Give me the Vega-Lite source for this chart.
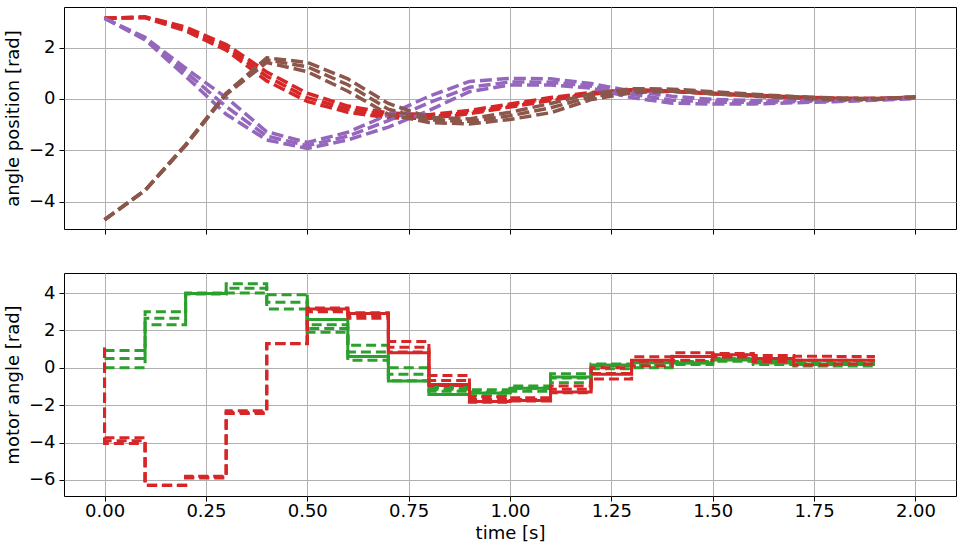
{
"$schema": "https://vega.github.io/schema/vega-lite/v6.json",
"padding": {"left": 3, "top": 6, "right": 5, "bottom": 5},
"background": "white",
"config": {
  "font": "DejaVu Sans",
  "view": {"stroke": "#000000", "strokeWidth": 1},
  "axis": {"labelFontSize": 18, "titleFontSize": 18, "labelColor": "#000000", "titleColor": "#000000", "titleFontWeight": "normal", "gridColor": "#b0b0b0", "gridWidth": 1, "tickColor": "#000000", "tickSize": 5, "domain": false, "labelPadding": 4, "titlePadding": 6, "labelFont": "DejaVu Sans", "titleFont": "DejaVu Sans"}
},
"resolve": {"scale": {"color": "independent"}},
"datasets": {
"top": [
{"t":0,"y":3.14,"s":"r1"},{"t":0.1,"y":3.2,"s":"r1"},{"t":0.2,"y":2.8,"s":"r1"},{"t":0.3,"y":2.12,"s":"r1"},{"t":0.4,"y":1.05,"s":"r1"},{"t":0.5,"y":0.22,"s":"r1"},{"t":0.6,"y":-0.28,"s":"r1"},{"t":0.7,"y":-0.55,"s":"r1"},{"t":0.8,"y":-0.62,"s":"r1"},{"t":0.9,"y":-0.45,"s":"r1"},{"t":1.0,"y":-0.2,"s":"r1"},{"t":1.1,"y":0.05,"s":"r1"},{"t":1.2,"y":0.25,"s":"r1"},{"t":1.3,"y":0.36,"s":"r1"},{"t":1.4,"y":0.3,"s":"r1"},{"t":1.5,"y":0.22,"s":"r1"},{"t":1.6,"y":0.15,"s":"r1"},{"t":1.7,"y":0.08,"s":"r1"},{"t":1.8,"y":0.03,"s":"r1"},{"t":1.9,"y":0.02,"s":"r1"},{"t":2.0,"y":0.07,"s":"r1"},
{"t":0,"y":3.14,"s":"r2"},{"t":0.1,"y":3.18,"s":"r2"},{"t":0.2,"y":2.72,"s":"r2"},{"t":0.3,"y":2.02,"s":"r2"},{"t":0.4,"y":0.88,"s":"r2"},{"t":0.5,"y":0.05,"s":"r2"},{"t":0.6,"y":-0.4,"s":"r2"},{"t":0.7,"y":-0.64,"s":"r2"},{"t":0.8,"y":-0.7,"s":"r2"},{"t":0.9,"y":-0.52,"s":"r2"},{"t":1.0,"y":-0.27,"s":"r2"},{"t":1.1,"y":0.0,"s":"r2"},{"t":1.2,"y":0.22,"s":"r2"},{"t":1.3,"y":0.34,"s":"r2"},{"t":1.4,"y":0.3,"s":"r2"},{"t":1.5,"y":0.21,"s":"r2"},{"t":1.6,"y":0.13,"s":"r2"},{"t":1.7,"y":0.06,"s":"r2"},{"t":1.8,"y":0.01,"s":"r2"},{"t":1.9,"y":0.0,"s":"r2"},{"t":2.0,"y":0.06,"s":"r2"},
{"t":0,"y":3.14,"s":"r3"},{"t":0.1,"y":3.16,"s":"r3"},{"t":0.2,"y":2.65,"s":"r3"},{"t":0.3,"y":1.9,"s":"r3"},{"t":0.4,"y":0.7,"s":"r3"},{"t":0.5,"y":-0.1,"s":"r3"},{"t":0.6,"y":-0.52,"s":"r3"},{"t":0.7,"y":-0.74,"s":"r3"},{"t":0.8,"y":-0.76,"s":"r3"},{"t":0.9,"y":-0.58,"s":"r3"},{"t":1.0,"y":-0.32,"s":"r3"},{"t":1.1,"y":-0.06,"s":"r3"},{"t":1.2,"y":0.18,"s":"r3"},{"t":1.3,"y":0.32,"s":"r3"},{"t":1.4,"y":0.29,"s":"r3"},{"t":1.5,"y":0.2,"s":"r3"},{"t":1.6,"y":0.12,"s":"r3"},{"t":1.7,"y":0.05,"s":"r3"},{"t":1.8,"y":0.0,"s":"r3"},{"t":1.9,"y":-0.01,"s":"r3"},{"t":2.0,"y":0.05,"s":"r3"},
{"t":0,"y":3.14,"s":"p1"},{"t":0.1,"y":2.4,"s":"p1"},{"t":0.2,"y":1.2,"s":"p1"},{"t":0.3,"y":0.05,"s":"p1"},{"t":0.4,"y":-1.28,"s":"p1"},{"t":0.5,"y":-1.7,"s":"p1"},{"t":0.6,"y":-1.3,"s":"p1"},{"t":0.7,"y":-0.62,"s":"p1"},{"t":0.8,"y":0.1,"s":"p1"},{"t":0.9,"y":0.68,"s":"p1"},{"t":1.0,"y":0.8,"s":"p1"},{"t":1.1,"y":0.78,"s":"p1"},{"t":1.2,"y":0.6,"s":"p1"},{"t":1.3,"y":0.3,"s":"p1"},{"t":1.4,"y":0.1,"s":"p1"},{"t":1.5,"y":-0.02,"s":"p1"},{"t":1.6,"y":-0.06,"s":"p1"},{"t":1.7,"y":-0.06,"s":"p1"},{"t":1.8,"y":-0.05,"s":"p1"},{"t":1.9,"y":0.0,"s":"p1"},{"t":2.0,"y":0.08,"s":"p1"},
{"t":0,"y":3.14,"s":"p2"},{"t":0.1,"y":2.35,"s":"p2"},{"t":0.2,"y":1.05,"s":"p2"},{"t":0.3,"y":-0.3,"s":"p2"},{"t":0.4,"y":-1.45,"s":"p2"},{"t":0.5,"y":-1.82,"s":"p2"},{"t":0.6,"y":-1.45,"s":"p2"},{"t":0.7,"y":-0.85,"s":"p2"},{"t":0.8,"y":-0.15,"s":"p2"},{"t":0.9,"y":0.45,"s":"p2"},{"t":1.0,"y":0.66,"s":"p2"},{"t":1.1,"y":0.65,"s":"p2"},{"t":1.2,"y":0.5,"s":"p2"},{"t":1.3,"y":0.18,"s":"p2"},{"t":1.4,"y":-0.05,"s":"p2"},{"t":1.5,"y":-0.12,"s":"p2"},{"t":1.6,"y":-0.14,"s":"p2"},{"t":1.7,"y":-0.11,"s":"p2"},{"t":1.8,"y":-0.08,"s":"p2"},{"t":1.9,"y":-0.03,"s":"p2"},{"t":2.0,"y":0.04,"s":"p2"},
{"t":0,"y":3.14,"s":"p3"},{"t":0.1,"y":2.3,"s":"p3"},{"t":0.2,"y":0.88,"s":"p3"},{"t":0.3,"y":-0.6,"s":"p3"},{"t":0.4,"y":-1.6,"s":"p3"},{"t":0.5,"y":-1.93,"s":"p3"},{"t":0.6,"y":-1.6,"s":"p3"},{"t":0.7,"y":-1.1,"s":"p3"},{"t":0.8,"y":-0.45,"s":"p3"},{"t":0.9,"y":0.28,"s":"p3"},{"t":1.0,"y":0.54,"s":"p3"},{"t":1.1,"y":0.54,"s":"p3"},{"t":1.2,"y":0.42,"s":"p3"},{"t":1.3,"y":0.05,"s":"p3"},{"t":1.4,"y":-0.17,"s":"p3"},{"t":1.5,"y":-0.2,"s":"p3"},{"t":1.6,"y":-0.2,"s":"p3"},{"t":1.7,"y":-0.15,"s":"p3"},{"t":1.8,"y":-0.11,"s":"p3"},{"t":1.9,"y":-0.05,"s":"p3"},{"t":2.0,"y":0.01,"s":"p3"},
{"t":0,"y":-4.71,"s":"b1"},{"t":0.1,"y":-3.56,"s":"b1"},{"t":0.2,"y":-1.78,"s":"b1"},{"t":0.3,"y":0.22,"s":"b1"},{"t":0.4,"y":1.6,"s":"b1"},{"t":0.5,"y":1.42,"s":"b1"},{"t":0.6,"y":0.78,"s":"b1"},{"t":0.7,"y":-0.18,"s":"b1"},{"t":0.8,"y":-0.72,"s":"b1"},{"t":0.9,"y":-0.78,"s":"b1"},{"t":1.0,"y":-0.52,"s":"b1"},{"t":1.1,"y":-0.18,"s":"b1"},{"t":1.2,"y":0.2,"s":"b1"},{"t":1.3,"y":0.4,"s":"b1"},{"t":1.4,"y":0.38,"s":"b1"},{"t":1.5,"y":0.28,"s":"b1"},{"t":1.6,"y":0.18,"s":"b1"},{"t":1.7,"y":0.09,"s":"b1"},{"t":1.8,"y":0.04,"s":"b1"},{"t":1.9,"y":0.01,"s":"b1"},{"t":2.0,"y":0.07,"s":"b1"},
{"t":0,"y":-4.71,"s":"b2"},{"t":0.1,"y":-3.56,"s":"b2"},{"t":0.2,"y":-1.8,"s":"b2"},{"t":0.3,"y":0.2,"s":"b2"},{"t":0.4,"y":1.52,"s":"b2"},{"t":0.5,"y":1.25,"s":"b2"},{"t":0.6,"y":0.55,"s":"b2"},{"t":0.7,"y":-0.4,"s":"b2"},{"t":0.8,"y":-0.82,"s":"b2"},{"t":0.9,"y":-0.88,"s":"b2"},{"t":1.0,"y":-0.66,"s":"b2"},{"t":1.1,"y":-0.35,"s":"b2"},{"t":1.2,"y":0.08,"s":"b2"},{"t":1.3,"y":0.32,"s":"b2"},{"t":1.4,"y":0.34,"s":"b2"},{"t":1.5,"y":0.24,"s":"b2"},{"t":1.6,"y":0.14,"s":"b2"},{"t":1.7,"y":0.06,"s":"b2"},{"t":1.8,"y":0.01,"s":"b2"},{"t":1.9,"y":0.0,"s":"b2"},{"t":2.0,"y":0.06,"s":"b2"},
{"t":0,"y":-4.71,"s":"b3"},{"t":0.1,"y":-3.57,"s":"b3"},{"t":0.2,"y":-1.82,"s":"b3"},{"t":0.3,"y":0.17,"s":"b3"},{"t":0.4,"y":1.42,"s":"b3"},{"t":0.5,"y":1.06,"s":"b3"},{"t":0.6,"y":0.3,"s":"b3"},{"t":0.7,"y":-0.6,"s":"b3"},{"t":0.8,"y":-0.92,"s":"b3"},{"t":0.9,"y":-0.98,"s":"b3"},{"t":1.0,"y":-0.8,"s":"b3"},{"t":1.1,"y":-0.54,"s":"b3"},{"t":1.2,"y":-0.03,"s":"b3"},{"t":1.3,"y":0.24,"s":"b3"},{"t":1.4,"y":0.3,"s":"b3"},{"t":1.5,"y":0.2,"s":"b3"},{"t":1.6,"y":0.1,"s":"b3"},{"t":1.7,"y":0.03,"s":"b3"},{"t":1.8,"y":-0.03,"s":"b3"},{"t":1.9,"y":-0.01,"s":"b3"},{"t":2.0,"y":0.05,"s":"b3"}
],
"motorDashed": [
{"t":0,"y":0.93,"s":"g1"},{"t":0.1,"y":0.93,"s":"g1"},{"t":0.2,"y":3.0,"s":"g1"},{"t":0.3,"y":4.0,"s":"g1"},{"t":0.4,"y":4.5,"s":"g1"},{"t":0.5,"y":3.9,"s":"g1"},{"t":0.6,"y":2.3,"s":"g1"},{"t":0.7,"y":1.2,"s":"g1"},{"t":0.8,"y":0.0,"s":"g1"},{"t":0.9,"y":-1.05,"s":"g1"},{"t":1.0,"y":-1.17,"s":"g1"},{"t":1.1,"y":-0.98,"s":"g1"},{"t":1.2,"y":-0.32,"s":"g1"},{"t":1.3,"y":0.2,"s":"g1"},{"t":1.4,"y":0.25,"s":"g1"},{"t":1.5,"y":0.33,"s":"g1"},{"t":1.6,"y":0.5,"s":"g1"},{"t":1.7,"y":0.33,"s":"g1"},{"t":1.8,"y":0.27,"s":"g1"},{"t":1.9,"y":0.25,"s":"g1"},
{"t":0,"y":0.5,"s":"g2"},{"t":0.1,"y":0.5,"s":"g2"},{"t":0.2,"y":2.65,"s":"g2"},{"t":0.3,"y":3.97,"s":"g2"},{"t":0.4,"y":4.25,"s":"g2"},{"t":0.5,"y":3.5,"s":"g2"},{"t":0.6,"y":2.1,"s":"g2"},{"t":0.7,"y":0.85,"s":"g2"},{"t":0.8,"y":-0.35,"s":"g2"},{"t":0.9,"y":-1.15,"s":"g2"},{"t":1.0,"y":-1.3,"s":"g2"},{"t":1.1,"y":-1.1,"s":"g2"},{"t":1.2,"y":-0.55,"s":"g2"},{"t":1.3,"y":0.12,"s":"g2"},{"t":1.4,"y":0.12,"s":"g2"},{"t":1.5,"y":0.25,"s":"g2"},{"t":1.6,"y":0.42,"s":"g2"},{"t":1.7,"y":0.25,"s":"g2"},{"t":1.8,"y":0.18,"s":"g2"},{"t":1.9,"y":0.17,"s":"g2"},
{"t":0,"y":0.0,"s":"g3"},{"t":0.1,"y":0.0,"s":"g3"},{"t":0.2,"y":2.3,"s":"g3"},{"t":0.3,"y":3.95,"s":"g3"},{"t":0.4,"y":4.0,"s":"g3"},{"t":0.5,"y":3.15,"s":"g3"},{"t":0.6,"y":1.9,"s":"g3"},{"t":0.7,"y":0.4,"s":"g3"},{"t":0.8,"y":-0.7,"s":"g3"},{"t":0.9,"y":-1.25,"s":"g3"},{"t":1.0,"y":-1.5,"s":"g3"},{"t":1.1,"y":-1.25,"s":"g3"},{"t":1.2,"y":-0.8,"s":"g3"},{"t":1.3,"y":-0.05,"s":"g3"},{"t":1.4,"y":0.0,"s":"g3"},{"t":1.5,"y":0.18,"s":"g3"},{"t":1.6,"y":0.35,"s":"g3"},{"t":1.7,"y":0.18,"s":"g3"},{"t":1.8,"y":0.1,"s":"g3"},{"t":1.9,"y":0.1,"s":"g3"},
{"t":0,"y":1.07,"s":"m1"},{"t":0.1,"y":-3.75,"s":"m1"},{"t":0.2,"y":-6.28,"s":"m1"},{"t":0.3,"y":-5.8,"s":"m1"},{"t":0.4,"y":-2.3,"s":"m1"},{"t":0.5,"y":1.3,"s":"m1"},{"t":0.6,"y":3.2,"s":"m1"},{"t":0.7,"y":2.95,"s":"m1"},{"t":0.8,"y":1.4,"s":"m1"},{"t":0.9,"y":-0.41,"s":"m1"},{"t":1.0,"y":-1.55,"s":"m1"},{"t":1.1,"y":-1.6,"s":"m1"},{"t":1.2,"y":-0.98,"s":"m1"},{"t":1.3,"y":0.0,"s":"m1"},{"t":1.4,"y":0.59,"s":"m1"},{"t":1.5,"y":0.8,"s":"m1"},{"t":1.6,"y":0.76,"s":"m1"},{"t":1.7,"y":0.66,"s":"m1"},{"t":1.8,"y":0.62,"s":"m1"},{"t":1.9,"y":0.6,"s":"m1"},
{"t":0,"y":1.07,"s":"m2"},{"t":0.1,"y":-3.9,"s":"m2"},{"t":0.2,"y":-6.28,"s":"m2"},{"t":0.3,"y":-5.85,"s":"m2"},{"t":0.4,"y":-2.38,"s":"m2"},{"t":0.5,"y":1.3,"s":"m2"},{"t":0.6,"y":3.1,"s":"m2"},{"t":0.7,"y":2.8,"s":"m2"},{"t":0.8,"y":1.1,"s":"m2"},{"t":0.9,"y":-0.68,"s":"m2"},{"t":1.0,"y":-1.7,"s":"m2"},{"t":1.1,"y":-1.7,"s":"m2"},{"t":1.2,"y":-1.15,"s":"m2"},{"t":1.3,"y":-0.3,"s":"m2"},{"t":1.4,"y":0.35,"s":"m2"},{"t":1.5,"y":0.6,"s":"m2"},{"t":1.6,"y":0.67,"s":"m2"},{"t":1.7,"y":0.5,"s":"m2"},{"t":1.8,"y":0.4,"s":"m2"},{"t":1.9,"y":0.4,"s":"m2"},
{"t":0,"y":1.07,"s":"m3"},{"t":0.1,"y":-4.05,"s":"m3"},{"t":0.2,"y":-6.3,"s":"m3"},{"t":0.3,"y":-5.9,"s":"m3"},{"t":0.4,"y":-2.45,"s":"m3"},{"t":0.5,"y":1.28,"s":"m3"},{"t":0.6,"y":3.0,"s":"m3"},{"t":0.7,"y":2.65,"s":"m3"},{"t":0.8,"y":0.85,"s":"m3"},{"t":0.9,"y":-0.95,"s":"m3"},{"t":1.0,"y":-1.85,"s":"m3"},{"t":1.1,"y":-1.78,"s":"m3"},{"t":1.2,"y":-1.34,"s":"m3"},{"t":1.3,"y":-0.6,"s":"m3"},{"t":1.4,"y":0.1,"s":"m3"},{"t":1.5,"y":0.4,"s":"m3"},{"t":1.6,"y":0.58,"s":"m3"},{"t":1.7,"y":0.33,"s":"m3"},{"t":1.8,"y":0.15,"s":"m3"},{"t":1.9,"y":0.2,"s":"m3"}
],
"motorSolid": [
{"t":0.5,"y":3.9,"s":"gs"},{"t":0.6,"y":2.58,"s":"gs"},{"t":0.7,"y":0.6,"s":"gs"},{"t":0.8,"y":-0.71,"s":"gs"},{"t":0.9,"y":-1.43,"s":"gs"},{"t":1.0,"y":-1.35,"s":"gs"},{"t":1.1,"y":-1.1,"s":"gs"},{"t":1.2,"y":-0.5,"s":"gs"},{"t":1.3,"y":0.15,"s":"gs"},{"t":1.4,"y":0.27,"s":"gs"},{"t":1.5,"y":0.27,"s":"gs"},{"t":1.6,"y":0.45,"s":"gs"},{"t":1.7,"y":0.3,"s":"gs"},{"t":1.8,"y":0.2,"s":"gs"},{"t":1.9,"y":0.2,"s":"gs"},
{"t":0.5,"y":1.3,"s":"ms"},{"t":0.6,"y":3.15,"s":"ms"},{"t":0.7,"y":2.9,"s":"ms"},{"t":0.8,"y":0.8,"s":"ms"},{"t":0.9,"y":-0.9,"s":"ms"},{"t":1.0,"y":-1.8,"s":"ms"},{"t":1.1,"y":-1.75,"s":"ms"},{"t":1.2,"y":-1.3,"s":"ms"},{"t":1.3,"y":-0.35,"s":"ms"},{"t":1.4,"y":0.4,"s":"ms"},{"t":1.5,"y":0.6,"s":"ms"},{"t":1.6,"y":0.7,"s":"ms"},{"t":1.7,"y":0.5,"s":"ms"},{"t":1.8,"y":0.4,"s":"ms"},{"t":1.9,"y":0.4,"s":"ms"}
]
},
"spacing": 37,
"vconcat": [
{
  "width": 892, "height": 222,
  "data": {"name": "top"},
  "mark": {"type": "line", "strokeDash": [12, 5], "strokeWidth": 3.5, "clip": true},
  "encoding": {
    "x": {"field": "t", "type": "quantitative", "scale": {"domain": [-0.1, 2.1], "nice": false, "zero": false},
          "axis": {"values": [0, 0.25, 0.5, 0.75, 1.0, 1.25, 1.5, 1.75, 2.0], "labels": false, "title": null}},
    "y": {"field": "y", "type": "quantitative", "scale": {"domain": [-5.07, 3.58], "nice": false, "zero": false},
          "axis": {"values": [-4, -2, 0, 2], "title": "angle position [rad]"}},
    "color": {"field": "s", "type": "nominal", "legend": null,
              "scale": {"domain": ["r1","r2","r3","p1","p2","p3","b1","b2","b3"],
                        "range": ["#d62728","#d62728","#d62728","#9467bd","#9467bd","#9467bd","#8c564b","#8c564b","#8c564b"]}}
  }
},
{
  "width": 892, "height": 223,
  "layer": [
    {
      "data": {"name": "motorSolid"},
      "mark": {"type": "line", "interpolate": "step-before", "strokeWidth": 3, "clip": true},
      "encoding": {
        "x": {"field": "t", "type": "quantitative", "scale": {"domain": [-0.1, 2.1], "nice": false, "zero": false},
              "axis": {"values": [0, 0.25, 0.5, 0.75, 1.0, 1.25, 1.5, 1.75, 2.0], "format": ".2f", "title": "time [s]", "labelPadding": 1, "titlePadding": 4}},
        "y": {"field": "y", "type": "quantitative", "scale": {"domain": [-6.86, 5.07], "nice": false, "zero": false},
              "axis": {"values": [-6, -4, -2, 0, 2, 4], "title": "motor angle [rad]"}},
        "color": {"field": "s", "type": "nominal", "legend": null,
                  "scale": {"domain": ["g1","g2","g3","m1","m2","m3","gs","ms"],
                            "range": ["#2ca02c","#2ca02c","#2ca02c","#d62728","#d62728","#d62728","#2ca02c","#d62728"]}}
      }
    },
    {
      "data": {"name": "motorDashed"},
      "mark": {"type": "line", "interpolate": "step-before", "strokeDash": [10, 5], "strokeWidth": 3, "clip": true},
      "encoding": {
        "x": {"field": "t", "type": "quantitative"},
        "y": {"field": "y", "type": "quantitative"},
        "color": {"field": "s", "type": "nominal", "legend": null,
                  "scale": {"domain": ["g1","g2","g3","m1","m2","m3","gs","ms"],
                            "range": ["#2ca02c","#2ca02c","#2ca02c","#d62728","#d62728","#d62728","#2ca02c","#d62728"]}}
      }
    }
  ]
}
]
}
